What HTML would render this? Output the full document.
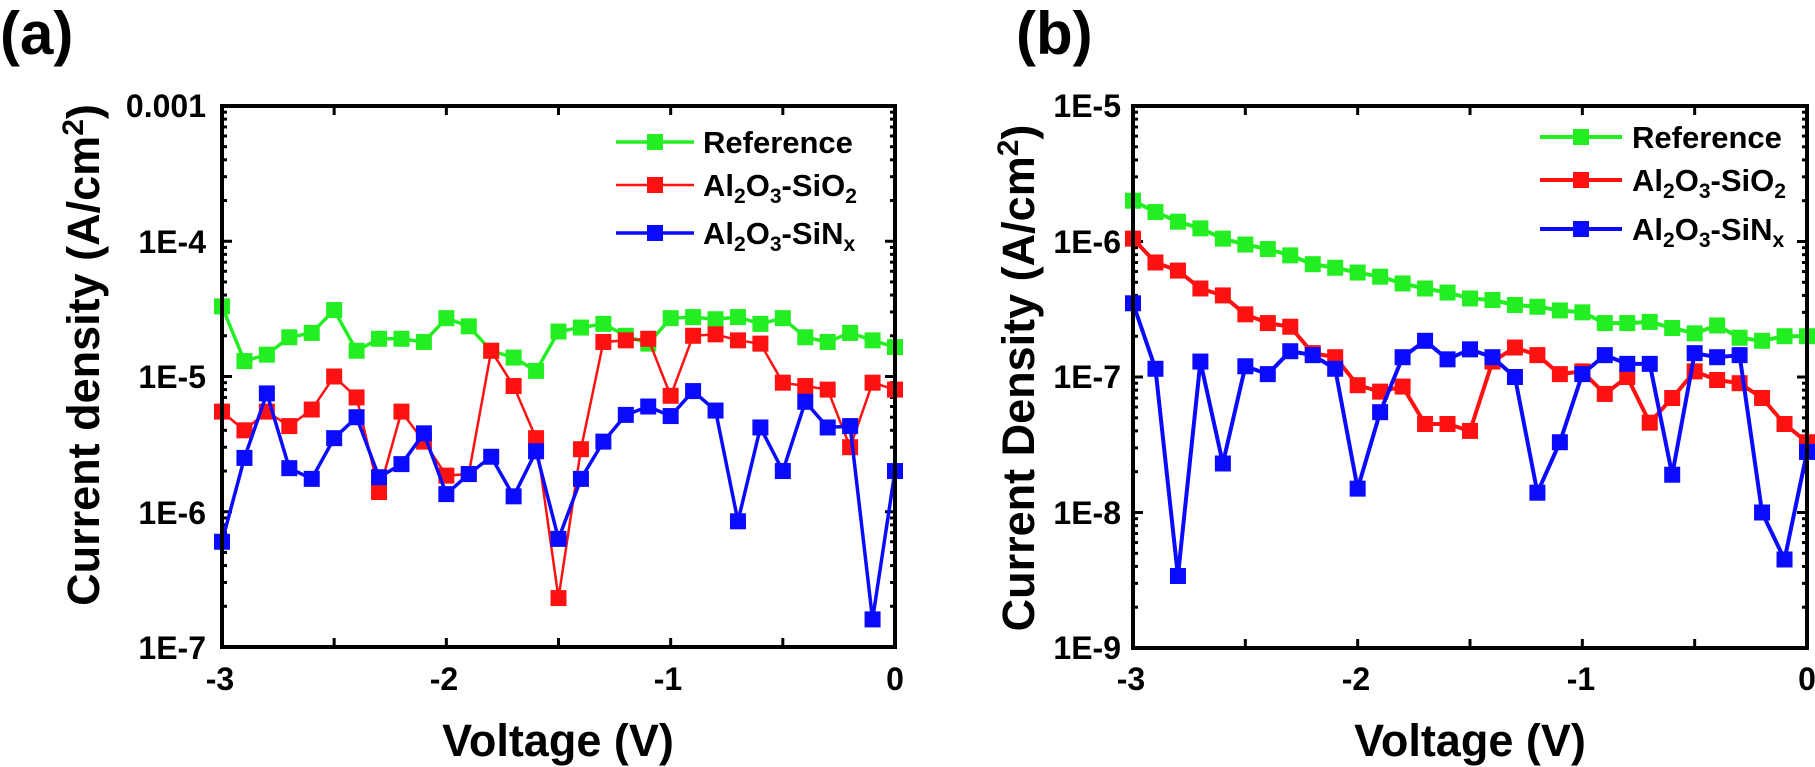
<!DOCTYPE html>
<html><head><meta charset="utf-8"><style>
html,body{margin:0;padding:0;background:#fff;}
svg{display:block;font-family:"Liberation Sans",Arial,sans-serif;font-weight:bold;}
</style></head><body>
<svg id="s" width="1815" height="767" viewBox="0 0 1815 767" xmlns="http://www.w3.org/2000/svg">
<rect width="1815" height="767" fill="#fff"/>
<text x="0" y="54" font-size="60">(a)</text>
<text x="1016" y="54" font-size="60">(b)</text>
<g id="ga"></g><g id="gb"></g>
<g font-size="32" text-anchor="end">
<text x="206" y="117">0.001</text>
<text x="206" y="253">1E-4</text>
<text x="206" y="388">1E-5</text>
<text x="206" y="524">1E-6</text>
<text x="206" y="659">1E-7</text>
<text x="1121" y="117">1E-5</text>
<text x="1121" y="253">1E-6</text>
<text x="1121" y="388">1E-7</text>
<text x="1121" y="524">1E-8</text>
<text x="1121" y="659">1E-9</text>
</g>
<g font-size="32" text-anchor="middle">
<text x="220" y="690">-3</text><text x="444" y="690">-2</text><text x="668" y="690">-1</text><text x="895" y="690">0</text>
<text x="1131" y="690">-3</text><text x="1356" y="690">-2</text><text x="1581" y="690">-1</text><text x="1807" y="690">0</text>
</g>
<g font-size="45" text-anchor="middle">
<text x="558" y="756">Voltage (V)</text>
<text x="1470" y="756">Voltage (V)</text>
<text transform="translate(99,355) rotate(-90)">Current density (A/cm<tspan font-size="30" dy="-16">2</tspan><tspan dy="16">)</tspan></text>
<text transform="translate(1034,378) rotate(-90)">Current Density (A/cm<tspan font-size="30" dy="-16">2</tspan><tspan dy="16">)</tspan></text>
</g>
<g font-size="31">
<text x="703" y="153">Reference</text>
<text x="703" y="196">Al<tspan font-size="21" dy="7">2</tspan><tspan dy="-7">O</tspan><tspan font-size="21" dy="7">3</tspan><tspan dy="-7">-SiO</tspan><tspan font-size="21" dy="7">2</tspan></text>
<text x="703" y="244">Al<tspan font-size="21" dy="7">2</tspan><tspan dy="-7">O</tspan><tspan font-size="21" dy="7">3</tspan><tspan dy="-7">-SiN</tspan><tspan font-size="21" dy="7">x</tspan></text>
<text x="1632" y="148">Reference</text>
<text x="1632" y="191">Al<tspan font-size="21" dy="7">2</tspan><tspan dy="-7">O</tspan><tspan font-size="21" dy="7">3</tspan><tspan dy="-7">-SiO</tspan><tspan font-size="21" dy="7">2</tspan></text>
<text x="1632" y="240">Al<tspan font-size="21" dy="7">2</tspan><tspan dy="-7">O</tspan><tspan font-size="21" dy="7">3</tspan><tspan dy="-7">-SiN</tspan><tspan font-size="21" dy="7">x</tspan></text>
</g>
</svg>
<script>
var NS="http://www.w3.org/2000/svg";
function el(p,t,a){var e=document.createElementNS(NS,t);for(var k in a)e.setAttribute(k,a[k]);p.appendChild(e);return e;}
var G="#22ee22",R="#ff1111",B="#0a0aff";var M=8;
function panel(g,x0,x1,y0,y1,ltop,lbot,series,leg){
  var X=function(v){return x0+(v+3)/3*(x1-x0);};
  var Y=function(v){return y0+(ltop-Math.log10(v))/(ltop-lbot)*(y1-y0);};
  for(var v=-3;v<=0.001;v+=0.5){var x=X(v);el(g,'line',{x1:x,x2:x,y1:y1,y2:y1-9,stroke:'#000','stroke-width':3});el(g,'line',{x1:x,x2:x,y1:y0,y2:y0+9,stroke:'#000','stroke-width':3});}
  for(var d=lbot;d<ltop;d++){for(var m=1;m<10;m++){var y=Y(m*Math.pow(10,d));var L=m==1?10:5;
    el(g,'line',{x1:x0,x2:x0+L,y1:y,y2:y,stroke:'#000','stroke-width':3});el(g,'line',{x1:x1,x2:x1-L,y1:y,y2:y,stroke:'#000','stroke-width':3});}}
  series.forEach(function(s){
    var pts=s.d.map(function(v,i){return [X(-3+i*0.1),Y(v)];});
    el(g,'polyline',{points:pts.map(function(p){return p.join(',')}).join(' '),fill:'none',stroke:s.c,'stroke-width':s.w});
    pts.forEach(function(p){el(g,'rect',{x:p[0]-M,y:p[1]-M,width:2*M,height:2*M,fill:s.c});});
  });
  leg.forEach(function(l,i){el(g,'line',{x1:l.x1,x2:l.x2,y1:l.y,y2:l.y,stroke:series[i].c,'stroke-width':series[i].w});el(g,'rect',{x:(l.x1+l.x2)/2-M,y:l.y-M,width:2*M,height:2*M,fill:series[i].c});});
  el(g,'rect',{x:x0,y:y0,width:x1-x0,height:y1-y0,fill:'none',stroke:'#000','stroke-width':4});
}
panel(document.getElementById('ga'),222,895,106,647,-3,-7,[
{c:G,w:3.5,d:[3.3e-5,1.3e-5,1.45e-5,1.95e-5,2.1e-5,3.1e-5,1.55e-5,1.9e-5,1.9e-5,1.8e-5,2.7e-5,2.35e-5,1.55e-5,1.38e-5,1.1e-5,2.15e-5,2.3e-5,2.45e-5,2.0e-5,1.75e-5,2.7e-5,2.75e-5,2.65e-5,2.75e-5,2.45e-5,2.7e-5,1.95e-5,1.8e-5,2.1e-5,1.85e-5,1.65e-5]},
{c:R,w:2.5,d:[5.5e-6,4e-6,5.5e-6,4.3e-6,5.7e-6,1e-5,7e-6,1.4e-6,5.5e-6,3.3e-6,1.85e-6,1.9e-6,1.55e-5,8.5e-6,3.5e-6,2.3e-7,2.9e-6,1.8e-5,1.85e-5,1.9e-5,7.2e-6,2e-5,2.05e-5,1.85e-5,1.75e-5,9e-6,8.5e-6,8e-6,3e-6,9e-6,8e-6]},
{c:B,w:3.5,d:[6e-7,2.5e-6,7.5e-6,2.1e-6,1.75e-6,3.5e-6,5e-6,1.8e-6,2.25e-6,3.8e-6,1.35e-6,1.9e-6,2.55e-6,1.3e-6,2.8e-6,6.3e-7,1.75e-6,3.3e-6,5.2e-6,6e-6,5.1e-6,7.8e-6,5.6e-6,8.5e-7,4.2e-6,2e-6,6.5e-6,4.2e-6,4.3e-6,1.6e-7,2e-6]}
],[{x1:616,x2:694,y:142},{x1:616,x2:694,y:185},{x1:616,x2:694,y:233}]);
panel(document.getElementById('gb'),1133,1807,106,648,-5,-9,[
{c:G,w:4,d:[2e-6,1.65e-6,1.4e-6,1.25e-6,1.05e-6,9.5e-7,8.8e-7,7.9e-7,6.8e-7,6.4e-7,5.9e-7,5.5e-7,4.9e-7,4.5e-7,4.2e-7,3.8e-7,3.7e-7,3.4e-7,3.3e-7,3.1e-7,3e-7,2.5e-7,2.5e-7,2.55e-7,2.3e-7,2.1e-7,2.4e-7,1.95e-7,1.85e-7,2e-7,2e-7]},
{c:R,w:4,d:[1.05e-6,7e-7,6.1e-7,4.5e-7,4e-7,2.9e-7,2.5e-7,2.35e-7,1.5e-7,1.4e-7,8.7e-8,7.8e-8,8.5e-8,4.5e-8,4.5e-8,4e-8,1.3e-7,1.65e-7,1.45e-7,1.05e-7,1.1e-7,7.5e-8,1e-7,4.6e-8,7e-8,1.1e-7,9.5e-8,9e-8,7e-8,4.5e-8,3.3e-8]},
{c:B,w:4,d:[3.5e-7,1.15e-7,3.4e-9,1.3e-7,2.3e-8,1.2e-7,1.05e-7,1.55e-7,1.45e-7,1.15e-7,1.5e-8,5.5e-8,1.4e-7,1.85e-7,1.35e-7,1.6e-7,1.4e-7,1e-7,1.4e-8,3.3e-8,1.05e-7,1.45e-7,1.25e-7,1.25e-7,1.9e-8,1.5e-7,1.4e-7,1.45e-7,1e-8,4.5e-9,2.8e-8]}
],[{x1:1540,x2:1622,y:137},{x1:1540,x2:1622,y:180},{x1:1540,x2:1622,y:229}]);
</script>
</body></html>
